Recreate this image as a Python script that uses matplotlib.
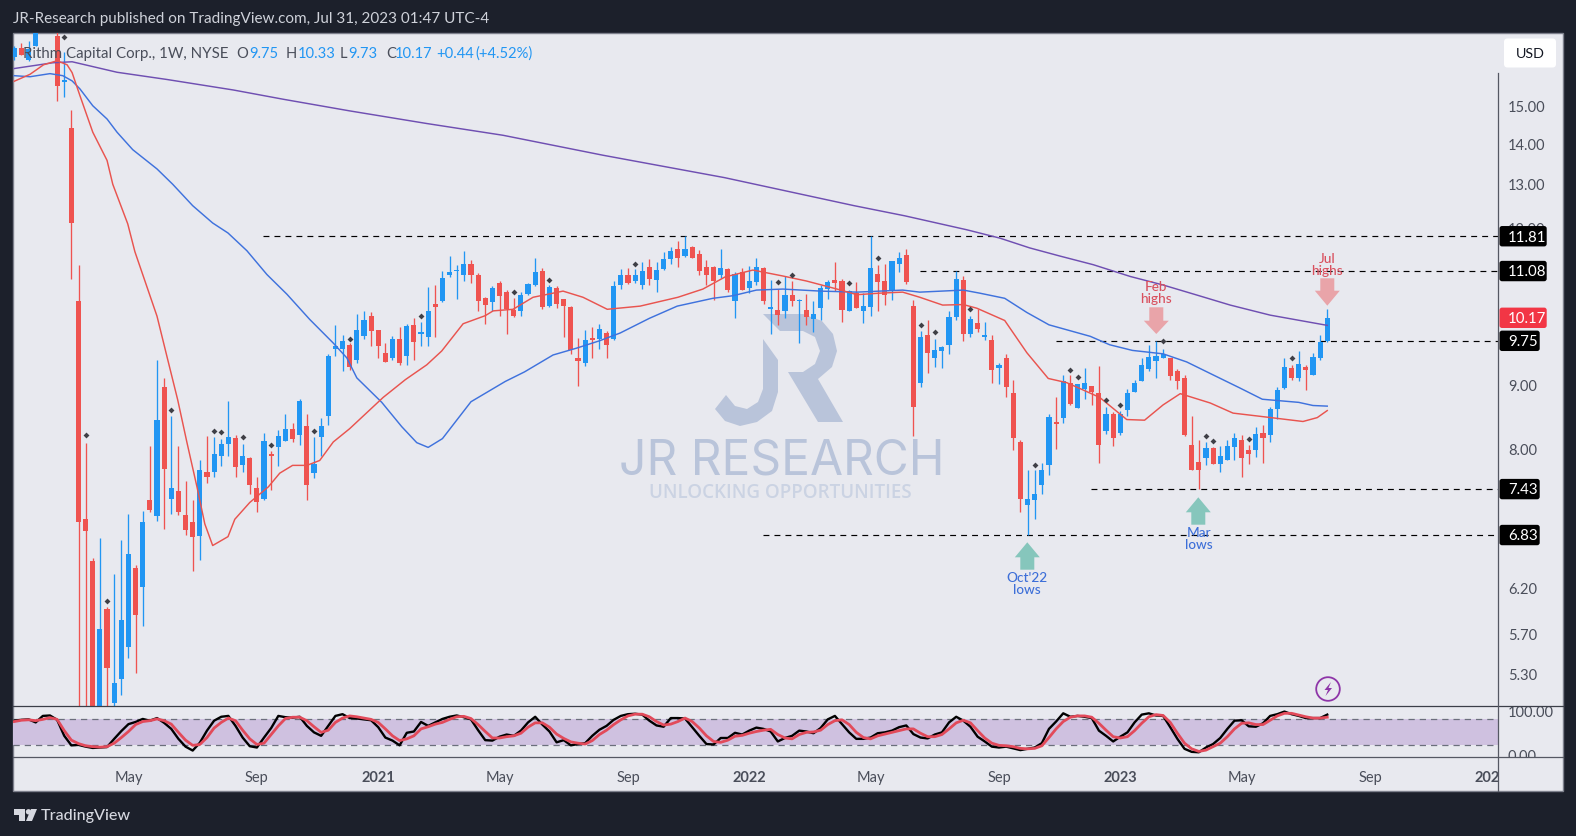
import matplotlib
matplotlib.use('Agg')
import matplotlib.pyplot as plt
from matplotlib.patches import Rectangle, Polygon, FancyBboxPatch, Circle
from matplotlib.ticker import FixedLocator, NullLocator, FuncFormatter
from matplotlib.transforms import Affine2D, Bbox, TransformedBbox

# ---------- weekly candles (price, USD) ----------
opens = [16.39,16.69,16.32,16.74,17.40,17.90,17.05,15.66,14.40,10.48,
 7.03,6.51,4.70,5.96,5.02,5.25,5.56,6.43,6.21,7.28,
 7.07,8.96,7.29,7.41,7.09,7.00,6.82,7.66,7.66,7.89,
 8.07,8.16,7.76,7.86,7.45,7.29,7.93,8.03,8.12,8.30,
 8.20,8.34,7.65,8.17,8.49,9.61,9.61,9.68,9.41,9.84,
 10.20,9.95,9.54,9.44,9.79,9.49,10.04,9.88,9.81,10.44,
 10.48,11.00,11.09,10.99,11.22,11.01,10.54,10.46,10.84,10.66,
 10.31,10.29,10.62,10.80,11.08,10.40,10.74,10.52,10.38,9.45,
 9.37,9.80,9.79,9.89,9.79,10.80,11.01,10.88,10.80,11.16,
 10.90,11.12,11.33,11.54,11.39,11.57,11.43,11.16,11.16,10.99,
 11.12,10.48,11.06,10.74,10.86,11.14,10.33,10.31,10.29,10.60,
 10.48,10.31,10.15,10.35,10.72,10.90,10.88,10.29,10.64,10.29,
 10.38,11.03,10.88,10.68,11.22,11.41,10.40,9.03,9.86,9.45,
 9.57,9.68,10.19,10.90,9.88,10.08,9.81,9.77,9.28,9.44,
 8.86,8.10,7.21,7.28,7.49,7.77,8.40,8.46,9.03,8.62,
 8.93,8.98,8.86,8.27,8.52,8.23,8.59,8.88,9.06,9.26,
 9.40,9.44,9.44,9.22,9.11,8.06,7.81,7.86,8.01,7.78,
 7.83,8.03,8.13,7.98,7.98,8.23,8.20,8.60,8.94,9.28,
 9.11,9.29,9.16,9.44,9.75]
highs = [16.75,16.83,16.90,17.50,18.10,18.20,17.60,16.54,14.88,11.20,
 8.09,6.55,6.79,5.99,6.36,6.77,7.10,6.46,7.14,8.04,
 9.42,9.11,8.49,8.04,7.54,7.28,7.83,8.19,8.18,8.15,
 8.73,8.20,8.07,7.88,7.60,8.23,7.96,8.28,8.52,8.39,
 8.77,8.52,8.17,8.46,9.51,10.04,9.86,9.71,10.25,10.29,
 10.28,9.95,9.71,9.83,10.00,10.06,10.16,10.10,10.76,10.80,
 11.08,11.39,11.20,11.50,11.31,11.05,10.56,10.78,10.88,10.70,
 10.54,10.66,10.84,11.35,11.14,10.80,10.78,10.52,10.40,9.80,
 9.95,10.00,10.06,9.93,10.88,11.12,11.14,11.12,11.27,11.33,
 11.27,11.48,11.57,11.71,11.81,11.61,11.52,11.31,11.18,11.54,
 11.14,11.06,11.14,11.18,11.35,11.16,10.90,10.72,10.97,10.88,
 10.52,10.62,10.48,10.80,10.90,11.27,10.92,10.70,10.86,10.64,
 11.81,11.20,11.22,11.29,11.48,11.54,10.50,9.93,10.12,9.79,
 9.66,10.29,11.08,10.97,10.21,10.33,10.10,9.86,9.36,9.52,
 9.08,8.13,7.70,7.69,7.80,8.52,8.80,9.16,9.16,9.01,
 9.28,8.98,9.31,8.64,8.55,8.57,8.93,9.08,9.44,9.68,
 9.75,9.61,9.44,9.26,9.16,8.50,8.13,8.10,8.03,8.04,
 8.13,8.23,8.20,8.06,8.33,8.36,8.64,8.96,9.44,9.33,
 9.57,9.33,9.54,9.86,10.33]
lows = [16.30,16.46,16.29,16.74,17.30,17.40,15.14,15.25,10.92,4.90,
 4.90,4.60,4.60,4.90,4.98,5.09,5.45,5.30,5.78,7.13,
 7.01,6.90,7.10,7.08,6.83,6.39,6.52,7.52,7.60,7.75,
 7.90,7.60,7.66,7.36,7.13,7.28,7.42,7.75,8.12,8.10,
 8.06,7.28,7.58,7.90,8.36,9.49,9.22,9.25,9.36,9.79,
 9.65,9.44,9.38,9.41,9.33,9.32,9.42,9.66,9.66,9.81,
 10.46,10.95,10.52,10.88,10.84,10.29,10.06,10.29,10.21,9.88,
 10.19,10.21,10.60,10.78,10.33,10.38,10.35,9.81,9.52,8.98,
 9.31,9.45,9.61,9.45,9.77,10.72,10.82,10.84,10.72,10.80,
 10.66,11.10,11.22,11.16,11.37,11.35,10.99,10.80,10.50,10.94,
 10.66,10.17,10.70,10.64,10.80,10.44,9.88,10.04,10.17,10.40,
 9.71,10.04,9.90,10.12,10.52,10.68,10.10,10.29,10.35,10.08,
 10.21,10.29,10.42,10.50,11.06,10.82,8.19,8.96,9.19,9.29,
 9.28,9.52,10.12,9.75,9.81,9.91,9.77,9.03,9.01,8.80,
 7.98,7.13,6.83,7.03,7.37,7.62,7.99,8.39,8.67,8.62,
 8.77,8.67,7.80,8.22,8.04,8.20,8.50,8.88,9.06,9.22,
 9.10,9.44,9.08,8.93,8.19,7.70,7.43,7.77,7.78,7.66,
 7.83,7.83,7.59,7.78,7.88,7.80,8.10,8.45,8.93,9.08,
 9.06,8.91,9.16,9.42,9.73]
closes = [16.69,16.46,16.63,17.30,17.90,17.60,15.54,15.72,12.09,7.00,
 6.88,4.70,5.75,5.35,5.21,5.84,6.60,5.90,7.00,7.15,
 8.44,7.71,7.45,7.13,6.89,6.81,7.70,7.59,7.93,8.07,
 8.17,7.73,7.90,7.48,7.26,8.12,7.89,8.19,8.30,8.15,
 8.73,7.48,7.78,8.34,9.49,9.66,9.75,9.29,9.95,10.12,
 9.93,9.65,9.38,9.79,9.37,10.01,9.73,9.90,10.29,10.38,
 10.94,11.06,11.11,11.22,10.99,10.48,10.42,10.74,10.58,10.33,
 10.21,10.60,10.82,11.06,10.38,10.76,10.44,10.40,9.59,9.40,
 9.77,9.77,9.97,9.68,10.78,10.99,10.84,10.99,11.08,10.92,
 11.10,11.33,11.50,11.35,11.54,11.35,11.08,10.99,10.88,11.14,
 10.70,11.03,10.70,10.88,11.16,10.48,10.37,10.23,10.60,10.48,
 10.50,10.19,10.25,10.74,10.86,10.84,10.31,10.68,10.35,10.40,
 11.14,10.86,10.60,11.29,11.35,10.86,8.64,9.81,9.54,9.59,
 9.64,10.19,10.92,9.88,10.15,9.97,9.86,9.24,9.33,8.96,
 8.16,7.30,7.29,7.37,7.70,8.48,8.37,9.05,8.69,9.01,
 9.03,8.88,8.06,8.52,8.16,8.53,8.86,9.03,9.33,9.47,
 9.49,9.52,9.14,9.05,8.20,7.70,7.69,8.01,7.78,7.89,
 8.04,8.16,7.86,7.92,8.22,8.16,8.60,8.91,9.29,9.10,
 9.35,9.24,9.47,9.73,10.17]

# ---------- moving averages (bar number, price) ----------
ma_red_bar = [0,2.2,4.1,6,7.4,8.1,9.2,11,13,13.8,15.9,16.9,20,21.5,22.9,24.2,25.6,26.7,27.8,29.95,30.9,33,35.6,37.2,39,41,42.8,44.7,47,51.7,54.8,57.8,59.9,62.9,66,67.1,69.9,72.7,76.9,79.7,83.1,87.7,93,96.5,99.6,103.5,107.7,111,115.3,118.1,121.3,124.5,126.9,130.1,133,134.9,138.8,141.9,144.9,147.5,152.1,155.9,158.4,161,163.4,167.6,170.8,174.6,180.6,182.6,184]
ma_red = [15.69,15.89,16.17,16.29,16.17,15.94,15.28,14.29,13.57,12.99,12.08,11.48,10.20,9.42,8.75,8.09,7.46,6.97,6.70,6.81,7.03,7.25,7.46,7.65,7.76,7.76,7.83,8.10,8.30,8.79,9.08,9.33,9.57,10.06,10.21,10.30,10.33,10.56,10.68,10.56,10.33,10.39,10.56,10.72,10.96,11.10,10.98,10.88,10.72,10.61,10.64,10.66,10.56,10.41,10.42,10.35,10.12,9.54,9.10,9.03,8.79,8.44,8.43,8.67,8.85,8.70,8.54,8.49,8.41,8.47,8.58]
ma_blue_bar = [0,2.2,5,6.8,8.1,9.2,11,13,14.4,16.6,20,22.2,25,27.8,29.95,32.6,35.4,38.2,41.4,44.7,46.6,48,51.5,54.3,56.4,58,60,64,68.8,71.5,75.5,78.8,82,84.9,89,92.9,97.9,100.7,104,107.7,113,118.1,124.5,126.9,133,135.3,138.8,141.9,145,150.8,153.5,156.7,161,164.3,168,171.8,174.9,180,182,184]
ma_blue = [15.85,15.82,15.91,15.85,15.70,15.47,15.00,14.64,14.29,13.84,13.36,12.99,12.49,12.10,11.88,11.50,11.01,10.62,10.14,9.71,9.45,9.11,8.71,8.33,8.09,8.02,8.15,8.72,9.05,9.21,9.50,9.62,9.75,9.89,10.16,10.39,10.54,10.59,10.70,10.72,10.68,10.66,10.70,10.66,10.70,10.64,10.54,10.27,10.04,9.83,9.68,9.58,9.52,9.38,9.16,8.94,8.76,8.71,8.66,8.65]
ma_purple_bar = [0,5.4,8.1,14.4,21.4,30.7,37.7,47,57.8,68.5,82.5,99.5,117.7,124.8,133.5,138.1,142.3,146.5,151.2,156.4,161,165.8,170.4,176,184]
ma_purple = [16.06,16.23,16.26,15.95,15.74,15.44,15.18,14.86,14.52,14.21,13.70,13.15,12.49,12.26,11.95,11.77,11.56,11.39,11.21,10.97,10.80,10.60,10.41,10.22,10.03]

# ---------- earnings markers (bar number, price) ----------
mark_bar = [7,10,13,22,28,29,32,36,42,47,57,70,75,87,107,109,117,121,127,129,134,143,148,149,153,155,161,167,168,173,179]
mark_price = [17.01,8.20,6.05,8.59,8.27,8.25,8.17,8.06,8.27,9.79,10.21,10.67,10.90,11.22,10.86,10.99,10.84,11.35,10.04,9.91,10.33,7.77,9.24,9.13,8.75,8.67,9.74,8.19,8.12,8.15,9.45]

# ---------- horizontal levels ----------
level_price = [11.81, 11.08, 9.75, 7.43, 6.83]
level_start = [34.85, 126.9, 146, 150.9, 104.9]
level_end = 208

# ---------- stochastic RSI ----------
stoch_k = [77,79,80,73,88,89,79,42,20,21,17,14,15,16,35,53,69,74,81,77,83,72,58,35,17,8,26,54,77,86,88,65,38,18,15,38,60,88,85,84,86,65,50,42,65,88,92,83,
 82,80,78,62,38,31,20,49,52,74,65,73,81,86,89,85,80,55,32,31,40,45,42,54,73,86,68,52,27,32,20,23,25,42,56,65,79,88,92,93,91,77,66,63,83,83,
 82,62,42,23,22,37,37,49,45,54,61,58,52,29,37,42,54,52,48,60,80,88,69,50,35,35,38,48,50,54,62,66,46,38,36,45,50,73,86,77,63,40,29,17,15,17,
 13,9,12,15,25,58,75,94,86,88,86,83,54,42,29,40,50,73,91,94,89,88,62,35,12,5,4,15,23,37,58,77,78,64,63,71,88,92,98,92,88,83,83,83,91]
stoch_d = [75,78,79,77,80,84,80,54,32,24,19,17,16,17,25,38,52,68,75,77,81,77,69,50,32,20,22,38,60,73,83,77,55,35,22,25,45,65,82,85,85,77,63,50,55,73,83,88,
 86,83,80,73,58,42,31,35,42,58,63,69,73,80,86,87,82,68,52,37,37,40,42,48,62,72,72,62,46,36,28,25,23,31,45,55,68,79,88,92,92,86,75,67,69,75,
 83,75,60,42,29,27,32,41,43,48,52,55,57,45,37,35,45,50,51,55,68,77,79,68,50,38,35,42,46,50,54,58,58,48,40,40,45,58,72,78,72,54,37,25,20,19,
 17,13,12,13,19,38,58,75,85,88,88,85,71,55,40,37,40,54,71,86,91,89,73,48,25,12,6,9,17,25,40,58,71,72,68,68,78,88,94,94,90,86,83,83,85]

# ---------- axis labels ----------
time_bars = [16,34,51,68,86,103,120,138,155,172,190,207]
time_labels = ['May','Sep','2021','May','Sep','2022','May','Sep','2023','May','Sep','2024']
price_ticks = [15,14,13,12,9,8,6.2,5.7,5.3]
osc_ticks = [100,0]

# ---------- colours ----------
UP = '#2196f3'; DOWN = '#ef5350'; BG = '#e8e9ef'; DARK = '#1c202b'
TXT = '#4a4e5a'; WM = '#b9c4da'; WM2 = '#cbd3e3'

W, H = 1576, 837
plt.rcParams['font.family'] = ['Lato', 'DejaVu Sans']
fig = plt.figure(figsize=(W/100, H/100), dpi=100, facecolor=DARK)

def box(x0, y0, x1, y1):
    return [x0/W, 1-y1/H, (x1-x0)/W, (y1-y0)/H]
def clip(x0, y0, x1, y1):
    return TransformedBbox(Bbox([[x0/W, 1-y1/H], [x1/W, 1-y0/H]]), fig.transFigure)
px = Affine2D().scale(1/W, -1/H).translate(0, 1) + fig.transFigure

L, R, T, M, B = 13.3, 1498.5, 34, 707.3, 758.3

bg = fig.add_axes([0, 0, 1, 1], zorder=0)
bg.set_xlim(0, W); bg.set_ylim(H, 0); bg.axis('off')
bg.add_patch(Rectangle((13, 34), 1550, 758, fc=BG, ec='#7d808c', lw=1))

ax = fig.add_axes(box(L, T, R, M), zorder=1)
ax2 = fig.add_axes(box(L, M, R, B), zorder=1, sharex=ax)
ov = fig.add_axes([0, 0, 1, 1], zorder=5)
ov.set_xlim(0, W); ov.set_ylim(H, 0); ov.axis('off')
ov.patch.set_alpha(0)

bars = list(range(len(closes)))

# main price pane
ax.patch.set_alpha(0)
ax.set_yscale('log')
ax.set_xlim(-0.14, 208)
ax.set_ylim(4.99, 17.14)
for s in ax.spines.values():
    s.set_visible(False)
for s in ax2.spines.values():
    s.set_visible(False)

# watermark
ax.add_patch(Polygon([(763,340),(778,361),(778,393),(772,412),(757,423),(740,427),(725,422),(715,410),(726,396),(735,407),(747,410),(758,403),(763,390)],
                     closed=True, fc=WM, ec='none', transform=px, zorder=0.5))
ax.add_patch(Polygon([(763,315),(803,315),(822,322),(833,335),(837,352),(832,368),(818,380),(843,423),(818,423),(788,373),(803,373),(815,365),(820,352),(815,338),(803,332),(780,332)],
                     closed=True, fc=WM, ec='none', transform=px, zorder=0.5))
ax.text(781.5, 462, 'JR RESEARCH', transform=px, color=WM, fontsize=34.5, family=['Inter'], ha='center', va='center', zorder=0.6)
ax.text(780, 493, 'UNLOCKING OPPORTUNITIES', transform=px, color=WM2, fontsize=13.5, family=['Open Sans'], weight='semibold', ha='center', va='center', zorder=0.6)

# levels
for p, s in zip(level_price, level_start):
    ax.plot([s, level_end], [p, p], color='black', lw=0.85, ls=(0, (5, 4.3)), zorder=1.5)

# candles
wick_col = [UP if c >= o else DOWN for o, c in zip(opens, closes)]
ax.vlines(bars, lows, highs, colors=wick_col, lw=0.95, zorder=2)
ax.bar(bars, [abs(c-o) for o, c in zip(opens, closes)], bottom=[min(o, c) for o, c in zip(opens, closes)],
       width=0.72, color=wick_col, linewidth=0, zorder=2.1)

# moving averages
ax.plot(ma_purple_bar, ma_purple, color='#6f4fb2', lw=1.05, zorder=3, solid_joinstyle='round')
ax.plot(ma_blue_bar, ma_blue, color='#3f72dd', lw=1.05, zorder=3, solid_joinstyle='round')
ax.plot(ma_red_bar, ma_red, color='#e9544f', lw=1.05, zorder=3, solid_joinstyle='round')

# earnings markers
ax.plot(mark_bar, mark_price, ls='none', marker='D', ms=3.0, color='#3f3f46', mec='none', zorder=3.5)

# price axis
ax.yaxis.tick_right()
ax.yaxis.set_major_locator(FixedLocator(price_ticks))
ax.yaxis.set_minor_locator(NullLocator())
ax.yaxis.set_major_formatter(FuncFormatter(lambda v, _: f'{v:.2f}'))
ax.tick_params(axis='y', which='major', length=0, pad=6.8, labelsize=10.5, labelcolor=TXT)
ax.tick_params(axis='x', which='both', length=0, labelbottom=False)

# oscillator pane
ax2.patch.set_alpha(0)
ax2.set_ylim(-7.6, 110.2)
ax2.axhspan(20, 80, color='#cfc1e0', lw=0, zorder=1)
ax2.plot([-0.14, 208], [80, 80], color='#6b6f7c', lw=0.9, ls=(0, (5, 4)), zorder=1.5)
ax2.plot([-0.14, 208], [20, 20], color='#6b6f7c', lw=0.9, ls=(0, (5, 4)), zorder=1.5)
ax2.plot(bars, stoch_k, color='black', lw=1.7, zorder=2, solid_joinstyle='round')
ax2.plot(bars, stoch_d, color='#e24a5a', lw=2.0, zorder=3, solid_joinstyle='round')
ax2.yaxis.tick_right()
ax2.set_yticks(osc_ticks)
ax2.set_yticklabels([f'{v:.2f}' for v in osc_ticks])
ax2.tick_params(axis='y', length=0, pad=6.8, labelsize=10.5, labelcolor=TXT)
for t in ax2.get_yticklabels():
    t.set_clip_on(True)
    t.set_clip_box(clip(R, M, 1563, B))

ax2.set_xticks(time_bars)
ax2.set_xticklabels(time_labels)
ax2.tick_params(axis='x', length=0, pad=8.8, labelsize=10.5, labelcolor=TXT, labelbottom=True)
for t, lab in zip(ax2.get_xticklabels(), time_labels):
    t.set_clip_on(True)
    t.set_clip_box(clip(0, B, R, 792))
    if lab.isdigit():
        t.set_fontweight('bold')

# frame lines
ov.plot([13, 1563], [M, M], color='#3b3e48', lw=0.9, zorder=1)
ov.plot([13, 1563], [B, B], color='#555863', lw=0.9, zorder=1)
ov.plot([R, R], [74, 792], color='#555863', lw=0.9, zorder=1)

# value boxes on the price scale
def price_y(p):
    return H - ax.transData.transform((0, p))[1]

def tag(p, col, x1, txt):
    y = price_y(p)
    ov.add_patch(FancyBboxPatch((R+1, y-10.2), x1-R-3, 20.4, boxstyle='round,pad=0,rounding_size=2.5',
                                fc=col, ec='none', zorder=3))
    ov.text(1508, y+0.3, txt, color='white', fontsize=10.8, va='center', ha='left', zorder=4)

tag(level_price[0], 'black', 1548.7, f'{level_price[0]:.2f}')
tag(level_price[1], 'black', 1548.7, f'{level_price[1]:.2f}')
tag(closes[-1], '#f23645', 1548.7, f'{closes[-1]:.2f}')
tag(level_price[2], 'black', 1541.7, f'{level_price[2]:.2f}')
tag(level_price[3], 'black', 1541.7, f'{level_price[3]:.2f}')
tag(level_price[4], 'black', 1541.7, f'{level_price[4]:.2f}')

# USD button
ov.add_patch(FancyBboxPatch((1504, 39.5), 52, 29, boxstyle='round,pad=0,rounding_size=3.5', fc='white', ec='none', zorder=3))
ov.text(1530, 54.3, 'USD', color='#131722', fontsize=10.3, ha='center', va='center', zorder=4)

# header
fig.text(13/W, 1-19.5/H, 'JR-Research published on TradingView.com, Jul 31, 2023 01:47 UTC-4',
         color='#cfd2da', fontsize=10.95, va='center', ha='left')

# legend line
ov.text(23.3, 54, 'Rithm Capital Corp., 1W, NYSE', color=TXT, fontsize=10.8, va='center', ha='left', zorder=4)
for x, s, c in [(236.5, 'O', TXT), (249.5, '9.75', UP),
                (286, 'H', TXT), (298, '10.33', UP), (340, 'L', TXT), (348.5, '9.73', UP),
                (386, 'C', TXT), (395, '10.17', UP), (436, '+0.44', UP), (475.5, '(+4.52%)', UP)]:
    ov.text(x, 54, s, color=c, fontsize=10.6, va='center', ha='left', zorder=4)

# annotation arrows
PINK = '#e9a4a9'; TEAL = '#86c6bc'
def arrow_down(cx, y0, y1, y2):
    ov.add_patch(Polygon([(cx-7, y0), (cx+7, y0), (cx+7, y1), (cx+12.5, y1), (cx, y2), (cx-12.5, y1), (cx-7, y1)],
                         closed=True, fc=PINK, ec='none', zorder=2))
def arrow_up(cx, y0, y1, y2):
    ov.add_patch(Polygon([(cx-7, y0), (cx+7, y0), (cx+7, y1), (cx+12.5, y1), (cx, y2), (cx-12.5, y1), (cx-7, y1)],
                         closed=True, fc=TEAL, ec='none', zorder=2))
arrow_down(1156.3, 308.3, 321.7, 335)
arrow_down(1327.3, 279.3, 291.7, 306.7)
arrow_up(1027.3, 570.7, 558.3, 543.3)
arrow_up(1198.3, 525.7, 513.3, 498.3)
for x, y, s, c in [(1156.3, 287, 'Feb', '#d9505e'), (1156.3, 299.3, 'highs', '#d9505e'),
                   (1327.3, 258.7, 'Jul', '#d9505e'), (1327.3, 270.7, 'highs', '#d9505e'),
                   (1027.3, 578, "Oct'22", '#3d6fd8'), (1027.3, 590, 'lows', '#3d6fd8'),
                   (1198.8, 533, 'Mar', '#3d6fd8'), (1198.8, 545, 'lows', '#3d6fd8')]:
    ov.text(x, y, s, color=c, fontsize=9.8, weight='medium', ha='center', va='center', zorder=3)

# lightning badge
ov.add_patch(Circle((1328, 690), 11.8, fc='none', ec='#8e35a8', lw=1.3, zorder=3))
ov.add_patch(Polygon([(1331, 683), (1324.5, 691), (1328, 691), (1325.5, 697), (1332, 689), (1328.5, 689)],
                     closed=True, fc='#8e35a8', ec='none', zorder=3))

# footer logo
LOGO = '#d6d8e0'
ov.add_patch(Polygon([(14, 810), (25, 810), (25, 822), (19.5, 822), (19.5, 815.5), (14, 815.5)], closed=True, fc=LOGO, ec='none'))
ov.add_patch(Circle((28.5, 812.8), 2.7, fc=LOGO, ec='none'))
ov.add_patch(Polygon([(31, 810), (37, 810), (32, 822), (26, 822)], closed=True, fc=LOGO, ec='none'))
ov.text(41, 816.5, 'TradingView', color=LOGO, fontsize=11.6, weight='medium', va='center', ha='left')

fig.savefig('out.png', dpi=100, facecolor=DARK)
